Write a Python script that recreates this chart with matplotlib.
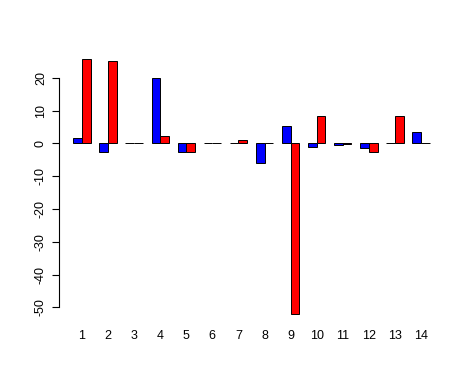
import numpy as np
import matplotlib
matplotlib.use("Agg")
import matplotlib.pyplot as plt

plt.rcParams['font.family'] = ['Liberation Sans', 'DejaVu Sans']

# values
groups = [str(i) for i in range(1, 15)]
blue_vals = [1.7, -2.7, 0.0, 20.0, -2.6, 0.0, 0.0, -6.0, 5.2, -1.0, -0.6, -1.4, 0.2, 3.5]
red_vals = [25.6, 25.1, 0.0, 2.2, -2.6, 0.0, 1.1, 0.0, -52.0, 8.2, -0.2, -2.7, 8.2, 0.0]
yticks = [-50, -40, -30, -20, -10, 0, 10, 20]

fig = plt.figure(figsize=(4.74, 3.88), dpi=100)
# R default margins: mar = c(5.1, 4.1, 4.1, 2.1) lines at 14.4 px
W, H = 474, 388
left, right, top, bottom = 59, 30, 59, 73.4
ax = fig.add_axes([left / W, bottom / H, (W - left - right) / W, (H - top - bottom) / H])

# R beside layout: each group = 1 gap + 2 bars of width 1
n = len(groups)
starts = 1 + 3 * np.arange(n)
ax.bar(starts + 0.5, blue_vals, width=1, color='#0000FF', edgecolor='black', linewidth=0.7)
ax.bar(starts + 1.5, red_vals, width=1, color='#FF0000', edgecolor='black', linewidth=0.7)

xmin, xmax = 1, starts[-1] + 2
ext = 0.04 * (xmax - xmin)
ax.set_xlim(xmin - ext, xmax + ext)
ax.set_ylim(min(red_vals + blue_vals) - 0.2, max(red_vals + blue_vals) + 0.1)

ax.set_xticks(starts + 1)
ax.set_xticklabels(groups, fontsize=9)
ax.tick_params(axis='x', length=0, pad=11)

ax.set_yticks(yticks)
ax.set_yticklabels([str(v) for v in yticks], fontsize=9, rotation=90, va='center')
ax.tick_params(axis='y', length=5.2, width=0.8, pad=3.5)

for s in ['top', 'right', 'bottom']:
    ax.spines[s].set_visible(False)
ax.spines['left'].set_bounds(-50, 20)
ax.spines['left'].set_linewidth(0.8)

fig.savefig('out.png', dpi=100)
